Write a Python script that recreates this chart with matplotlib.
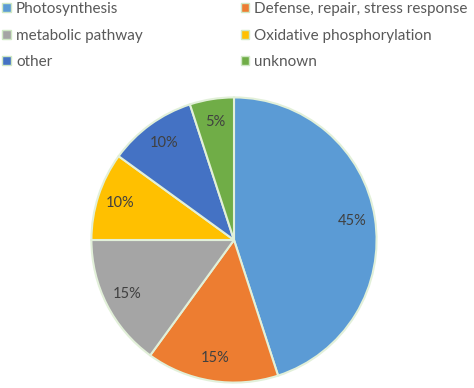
import matplotlib.pyplot as plt
from matplotlib.patches import Patch

categories = ['Photosynthesis', 'Defense, repair, stress response', 'metabolic pathway',
              'Oxidative phosphorylation', 'other', 'unknown']
values = [45, 15, 15, 10, 10, 5]
colors = ['#5B9BD5', '#ED7D31', '#A5A5A5', '#FFC000', '#4472C4', '#70AD47']

plt.rcParams['font.family'] = ['Lato', 'DejaVu Sans']

fig = plt.figure(figsize=(4.74, 3.88), dpi=100)
# pie area: centre ~ (234, 240) px, radius ~144 px
ax = fig.add_axes([90 / 474, 4 / 388, 288 / 474, 288 / 388])
wedges, texts = ax.pie(values, colors=colors, startangle=90, counterclock=False,
                       labels=[f'{v}%' for v in values], labeldistance=0.84,
                       wedgeprops=dict(edgecolor='#E2F0D9', linewidth=1.5),
                       textprops=dict(color='#404040', fontsize=10.5, ha='center', va='center'))
ax.set_xlim(-1.01, 1.01)
ax.set_ylim(-1.01, 1.01)
ax.set_aspect('equal')

# legend filled row by row
order = [0, 2, 4, 1, 3, 5]
handles = [Patch(facecolor=colors[i], edgecolor='#CFE8C4', linewidth=1) for i in order]
labels = [categories[i] for i in order]
fig.legend(handles, labels, ncol=2, loc='upper left', bbox_to_anchor=(0.0, 1.0),
           frameon=False, fontsize=11, labelcolor='#595959', borderpad=0.15,
           borderaxespad=0.0,
           handlelength=0.55, handleheight=0.55, handletextpad=0.35,
           columnspacing=6.4, labelspacing=0.8)

fig.savefig('out.png', dpi=100)
